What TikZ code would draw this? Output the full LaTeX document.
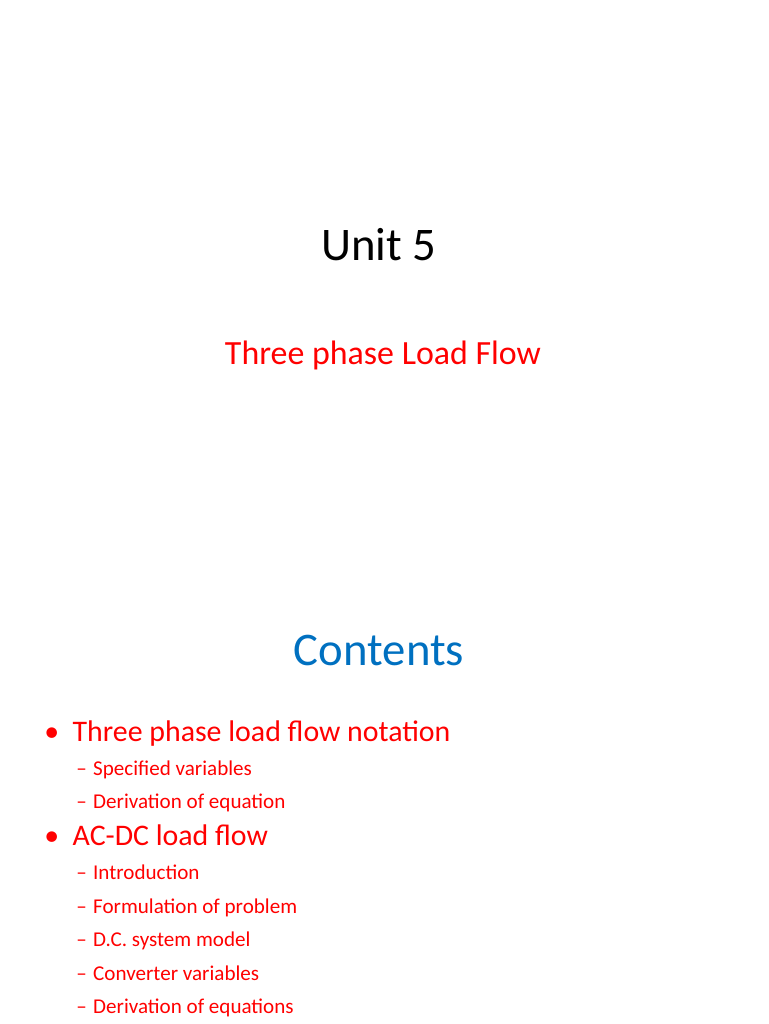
\documentclass[tikz,border=0pt]{standalone}
\usepackage{fontspec}
\setmainfont{Carlito}
\usepackage{tikz}
\definecolor{slidered}{RGB}{255,0,0}
\definecolor{slideblue}{RGB}{0,112,192}
\tikzset{title/.style={anchor=base, inner sep=0pt, font=\fontsize{26.6}{30}\selectfont},
  subtitle/.style={anchor=base, inner sep=0pt, text=slidered, font=\fontsize{19.3}{22}\selectfont},
  item/.style={anchor=base west, inner sep=0pt, text=slidered, font=\fontsize{17}{20}\selectfont},
  subitem/.style={anchor=base west, inner sep=0pt, text=slidered, font=\fontsize{12}{14}\selectfont}}
\begin{document}
\begin{tikzpicture}[x=0.02cm, y=-0.02cm]
\useasboundingbox (0,0) rectangle (768,1024);
% first slide
\node (unit) [title] at (379,260) {Unit 5};
\node (sub) [subtitle] at (383,364) {Three phase Load Flow};
% second slide
\node (contents) [title, text=slideblue] at (379,665) {Contents};
\node (b1) [item] at (44,741) {•\hspace{0.45em}Three phase load flow notation};
\node (s1) [subitem] at (76,775) {–\hspace{0.3em}Specified variables};
\node (s2) [subitem] at (76,808) {–\hspace{0.3em}Derivation of equation};
\node (b2) [item] at (44,845) {•\hspace{0.45em}AC-DC load flow};
\foreach \t [count=\i] in {Introduction, Formulation of problem, D.C. system model, Converter variables, Derivation of equations}
  \node (t\i) [subitem] at (76,846+33.5*\i) {–\hspace{0.3em}\t};
\end{tikzpicture}
\end{document}
